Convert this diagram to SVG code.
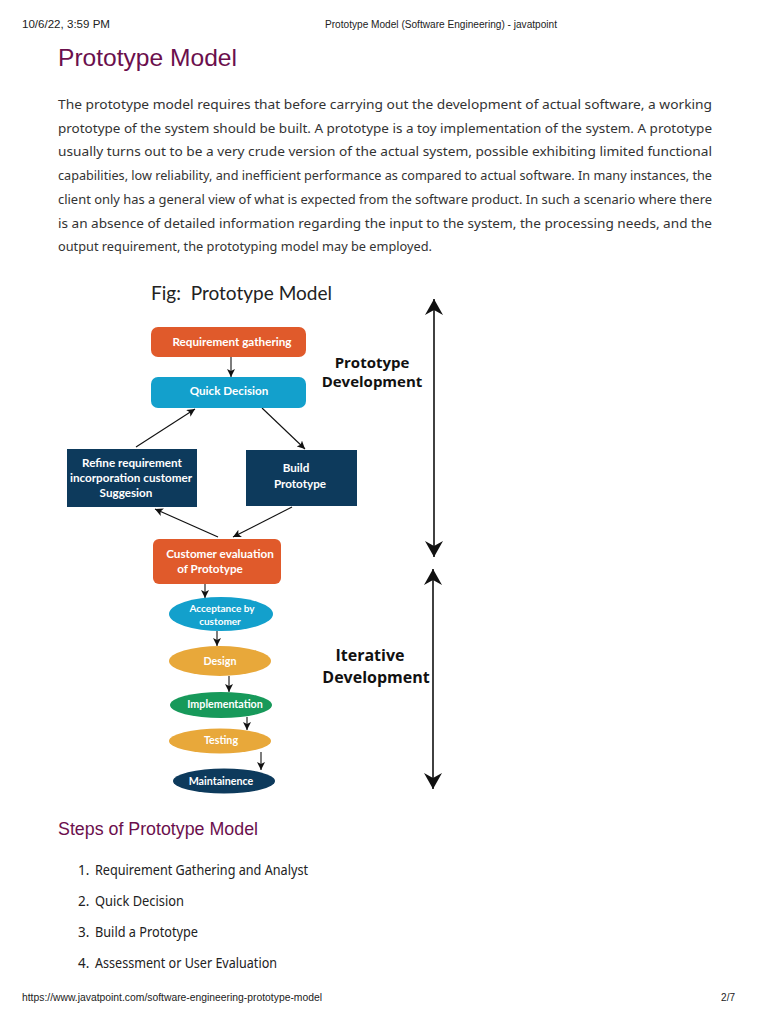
<svg xmlns="http://www.w3.org/2000/svg" width="768" height="1024" viewBox="0 0 768 1024">
<style>
.hdr{font-family:"Liberation Sans",Arial,sans-serif;font-size:10px;fill:#222}
.h1{font-family:"Liberation Sans",Arial,sans-serif;fill:#6b0f4d}
.p{font-family:"Noto Sans","Open Sans",sans-serif;font-size:13px;fill:#333}
.li{font-family:"Noto Sans","Open Sans",sans-serif;font-size:13.5px;fill:#222}
.nt{font-family:Lato,"Open Sans",sans-serif;font-weight:bold;font-size:11.7px;fill:#fff;text-anchor:middle}
.et{font-family:Lato,"Open Sans",sans-serif;font-weight:bold;font-size:10.7px;fill:#fff;text-anchor:middle}
.side{font-family:"Open Sans",Lato,sans-serif;font-weight:bold;font-size:15px;fill:#111;text-anchor:middle}
.c{stroke:#111;stroke-width:1.1;fill:none;marker-end:url(#ah)}
.big{stroke:#111;stroke-width:1.6;fill:none;marker-start:url(#bh);marker-end:url(#bh)}
.org{fill:#e05a2b}.cy{fill:#13a0cc}.nv{fill:#0d3a5c}.gd{fill:#e8a83a}.gr{fill:#17995a}
</style>
<defs>
<marker id="ah" viewBox="0 0 10 10" refX="10" refY="5" markerWidth="8" markerHeight="8" markerUnits="userSpaceOnUse" orient="auto">
<path d="M0,0 L10,5 L0,10 L2.5,5 z" fill="#111"/>
</marker>
<marker id="bh" viewBox="0 0 16 18" refX="16" refY="9" markerWidth="16" markerHeight="18" markerUnits="userSpaceOnUse" orient="auto-start-reverse">
<path d="M0,0 L16,9 L0,18 L5,9 z" fill="#111"/>
</marker>
</defs>
<rect width="768" height="1024" fill="#fff"/>
<text class="hdr" x="22" y="28" textLength="88" lengthAdjust="spacingAndGlyphs">10/6/22, 3:59 PM</text>
<text class="hdr" x="325" y="28" textLength="232" lengthAdjust="spacingAndGlyphs">Prototype Model (Software Engineering) - javatpoint</text>
<text class="h1" x="58" y="66" font-size="24" textLength="179" lengthAdjust="spacingAndGlyphs">Prototype Model</text>
<g id="para">
<text class="p" x="58" y="109" textLength="654" lengthAdjust="spacingAndGlyphs">The prototype model requires that before carrying out the development of actual software, a working</text>
<text class="p" x="58" y="133" textLength="654" lengthAdjust="spacingAndGlyphs">prototype of the system should be built. A prototype is a toy implementation of the system. A prototype</text>
<text class="p" x="58" y="156" textLength="654" lengthAdjust="spacingAndGlyphs">usually turns out to be a very crude version of the actual system, possible exhibiting limited functional</text>
<text class="p" x="58" y="180" textLength="654" lengthAdjust="spacingAndGlyphs">capabilities, low reliability, and inefficient performance as compared to actual software. In many instances, the</text>
<text class="p" x="58" y="204" textLength="654" lengthAdjust="spacingAndGlyphs">client only has a general view of what is expected from the software product. In such a scenario where there</text>
<text class="p" x="58" y="228" textLength="654" lengthAdjust="spacingAndGlyphs">is an absence of detailed information regarding the input to the system, the processing needs, and the</text>
<text class="p" x="58" y="251" textLength="374" lengthAdjust="spacingAndGlyphs">output requirement, the prototyping model may be employed.</text>
</g>
<text x="151" y="300" font-family="Lato,'Open Sans',sans-serif" font-size="20" fill="#222" textLength="181" lengthAdjust="spacingAndGlyphs">Fig:&#160; Prototype Model</text>
<g id="connectors">
<line class="c" x1="231" y1="357" x2="231" y2="377"/>
<line class="c" x1="136" y1="447" x2="195" y2="409"/>
<line class="c" x1="262" y1="408" x2="305" y2="449"/>
<line class="c" x1="218" y1="537" x2="155" y2="509"/>
<line class="c" x1="292" y1="507" x2="233" y2="537"/>
<line class="c" x1="205" y1="584" x2="205" y2="598"/>
<line class="c" x1="217" y1="631" x2="217" y2="646"/>
<line class="c" x1="229" y1="676" x2="229" y2="692"/>
<line class="c" x1="247" y1="717" x2="247" y2="730"/>
<line class="c" x1="261" y1="752" x2="261" y2="770"/>
<line class="big" x1="434" y1="299" x2="434" y2="557"/>
<line class="big" x1="433" y1="569" x2="433" y2="789"/>
</g>
<g id="n-req"><rect class="org" x="151" y="327" width="155" height="30" rx="7"/><text class="nt" x="232" y="346">Requirement gathering</text></g>
<g id="n-quick"><rect class="cy" x="151" y="377" width="155" height="31" rx="7"/><text class="nt" x="229" y="395">Quick Decision</text></g>
<g id="n-refine"><rect class="nv" x="67" y="449" width="130" height="58"/>
<text class="nt" x="132" y="467">Refine requirement</text><text class="nt" x="131" y="482">incorporation customer</text><text class="nt" x="126" y="497">Suggesion</text></g>
<g id="n-build"><rect class="nv" x="246" y="450" width="111" height="56"/>
<text class="nt" x="296" y="472">Build</text><text class="nt" x="300" y="488">Prototype</text></g>
<g id="n-eval"><rect class="org" x="153" y="539" width="128" height="45" rx="6"/>
<text class="nt" x="220" y="558">Customer evaluation</text><text class="nt" x="210" y="573">of Prototype</text></g>
<g id="n-accept"><ellipse class="cy" cx="221" cy="614" rx="52" ry="17"/>
<text class="et" x="222" y="612" style="font-size:10px">Acceptance by</text><text class="et" x="220" y="625" style="font-size:10px">customer</text></g>
<g id="n-design"><ellipse class="gd" cx="220" cy="661" rx="51" ry="15"/><text class="et" x="220" y="665">Design</text></g>
<g id="n-impl"><ellipse class="gr" cx="221" cy="705" rx="51" ry="13"/><text class="et" x="225" y="708">Implementation</text></g>
<g id="n-test"><ellipse class="gd" cx="220" cy="741" rx="51" ry="12.5"/><text class="et" x="221" y="744">Testing</text></g>
<g id="n-maint"><ellipse class="nv" cx="224" cy="781" rx="51" ry="12.5"/><text class="et" x="221" y="785">Maintainence</text></g>
<g id="lbl-proto"><text class="side" x="372" y="368">Prototype</text><text class="side" x="372" y="387">Development</text></g>
<g id="lbl-iter"><text class="side" x="370" y="661" style="font-size:16px">Iterative</text><text class="side" x="376" y="683" style="font-size:16px">Development</text></g>
<text class="h1" x="58" y="835" font-size="18" textLength="200" lengthAdjust="spacingAndGlyphs">Steps of Prototype Model</text>
<g id="steps">
<text class="li" x="78" y="875">1.</text><text class="li" x="95" y="875" textLength="213" lengthAdjust="spacingAndGlyphs">Requirement Gathering and Analyst</text>
<text class="li" x="78" y="906">2.</text><text class="li" x="95" y="906" textLength="89" lengthAdjust="spacingAndGlyphs">Quick Decision</text>
<text class="li" x="78" y="937">3.</text><text class="li" x="95" y="937" textLength="103" lengthAdjust="spacingAndGlyphs">Build a Prototype</text>
<text class="li" x="78" y="968">4.</text><text class="li" x="95" y="968" textLength="182" lengthAdjust="spacingAndGlyphs">Assessment or User Evaluation</text>
</g>
<text class="hdr" x="22" y="1001" textLength="300" lengthAdjust="spacingAndGlyphs">https://www.javatpoint.com/software-engineering-prototype-model</text>
<text class="hdr" x="735" y="1001" text-anchor="end">2/7</text>
</svg>
